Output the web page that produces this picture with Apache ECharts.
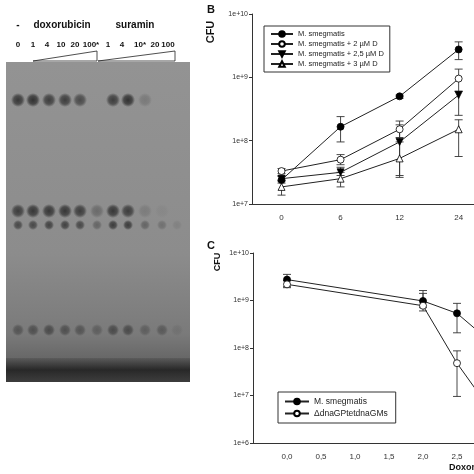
<!DOCTYPE html>
<html><head><meta charset="utf-8">
<script src="https://cdn.jsdelivr.net/npm/echarts@6/dist/echarts.min.js"></script>
<style>html,body{margin:0;padding:0;background:#fff}#c{width:474px;height:474px}</style>
</head><body><div id="c"></div>
<script>
// panel B: CFU over time (hours), log10 values
const timeCats = ['0', '6', '12', '24'];
const bSmeg = [7.38, 8.22, 8.70, 9.44];
const bD2 = [7.52, 7.70, 8.18, 8.98];
const bD25 = [7.40, 7.50, 7.98, 8.72];
const bD3 = [7.27, 7.40, 7.72, 8.18];
// error bars [index, low, high] (log10)
const bErr = [
  [0, 7.33, 7.44], [1, 7.98, 8.38], [2, 8.67, 8.72], [3, 9.28, 9.56],
  [0, 7.48, 7.56], [1, 7.62, 7.78], [2, 8.05, 8.31], [3, 8.78, 9.13],
  [0, 7.36, 7.44], [1, 7.45, 7.58], [2, 7.45, 8.25], [3, 8.40, 8.78],
  [0, 7.14, 7.37], [1, 7.27, 7.50], [2, 7.42, 7.98], [3, 7.75, 8.33]
];
// panel C: CFU vs doxorubicin
const doses = [0, 2.0, 2.5, 3.0];
const cSmeg = [9.44, 8.99, 8.73, 8.12];
const cMut = [9.34, 8.89, 7.68, 6.68];
const cErr = [
  [0, 9.29, 9.55], [2.0, 8.85, 9.21], [2.5, 8.32, 8.94],
  [0, 9.27, 9.42], [2.0, 8.78, 9.15], [2.5, 6.98, 7.94]
];
// gel lanes x positions and band intensities (0..1)
const laneX = [18, 33, 49, 65, 80, 97, 113, 128, 145, 162, 177];
const topBand = [0.75, 0.8, 0.7, 0.7, 0.6, 0, 0.7, 0.8, 0.2, 0, 0];
const midBand1 = [0.7, 0.75, 0.75, 0.75, 0.7, 0.3, 0.75, 0.7, 0.15, 0.05, 0];
const midBand2 = [0.6, 0.6, 0.65, 0.65, 0.6, 0.35, 0.7, 0.7, 0.35, 0.25, 0.1];
const lowBand = [0.4, 0.45, 0.5, 0.45, 0.4, 0.3, 0.5, 0.5, 0.3, 0.35, 0.1];

const chart = echarts.init(document.getElementById('c'));
const f = 'Arial, "Liberation Sans", sans-serif';
const pw = v => Math.pow(10, v);
const line = (name, vals, sym, fill, xi, yi, xs) => ({
  name: name, type: 'line', xAxisIndex: xi, yAxisIndex: yi,
  data: vals.map((v, i) => [xs ? xs[i] : i, pw(v)]),
  symbol: sym, symbolSize: 7,
  itemStyle: { color: fill, borderColor: '#000', borderWidth: 0.8 },
  lineStyle: { color: '#222', width: 1 }, z: 3
});
const errSeries = (data, xi, yi) => ({
  type: 'custom', xAxisIndex: xi, yAxisIndex: yi, silent: true, z: 2,
  data: data.map(d => [d[0], pw(d[1]), pw(d[2])]),
  renderItem: (p, api) => {
    const a = api.coord([api.value(0), api.value(1)]);
    const b = api.coord([api.value(0), api.value(2)]);
    const s = { stroke: '#333', lineWidth: 0.9 };
    return { type: 'group', children: [
      { type: 'line', shape: { x1: a[0], y1: a[1], x2: b[0], y2: b[1] }, style: s },
      { type: 'line', shape: { x1: a[0] - 4, y1: a[1], x2: a[0] + 4, y2: a[1] }, style: s },
      { type: 'line', shape: { x1: b[0] - 4, y1: b[1], x2: b[0] + 4, y2: b[1] }, style: s }
    ] };
  }
});
const yAx = (gi, min, max) => ({
  type: 'log', logBase: 10, gridIndex: gi, min: min, max: max,
  axisLine: { show: true, onZero: false, lineStyle: { color: '#333' } },
  axisTick: { length: 3, lineStyle: { color: '#333' } }, minorTick: { show: false },
  splitLine: { show: false },
  axisLabel: { fontSize: 7, color: '#333', fontFamily: f, margin: 4,
    formatter: v => '1e+' + Math.round(Math.log10(v)) }
});

// gel graphics
const gel = [{ type: 'rect', shape: { x: 6, y: 62, width: 184, height: 320 },
  style: { fill: new echarts.graphic.LinearGradient(0, 0, 0, 1, [
    { offset: 0, color: '#939393' }, { offset: 0.6, color: '#8c8c8c' },
    { offset: 0.85, color: '#7a7a7a' }, { offset: 1, color: '#555' }]) } }];
const blob = (cx, cy, rx, ry, a) => gel.push({ type: 'ellipse', shape: { cx: cx, cy: cy, rx: rx, ry: ry },
  style: { fill: new echarts.graphic.RadialGradient(0.5, 0.5, 0.5, [
    { offset: 0, color: 'rgba(25,25,25,' + a + ')' }, { offset: 0.6, color: 'rgba(25,25,25,' + (a * 0.75) + ')' },
    { offset: 1, color: 'rgba(25,25,25,0)' }]) } });
const band = (arr, y, h, w) => arr.forEach((a, i) => { if (a > 0) blob(laneX[i], y, w, h, a); });
band(topBand, 100, 7, 12);
band(midBand1, 211, 7, 12);
band(midBand2, 225, 5, 12);
band(lowBand, 330, 6, 10);
gel.push({ type: 'rect', shape: { x: 6, y: 358, width: 184, height: 24 },
  style: { fill: new echarts.graphic.LinearGradient(0, 0, 0, 1, [
    { offset: 0, color: 'rgba(40,40,40,0.2)' }, { offset: 0.5, color: 'rgba(30,30,30,0.85)' },
    { offset: 1, color: 'rgba(50,50,50,0.7)' }]) } });
const txt = (x, y, s, size, extra, rot) => gel.push({ type: 'text', x: x, y: y, rotation: rot || 0,
  style: Object.assign({ text: s, fontSize: size, fontWeight: 'bold', fill: '#111', fontFamily: f,
    align: 'center', verticalAlign: 'middle' }, extra || {}) });
txt(18, 25, '-', 10); txt(62, 25, 'doxorubicin', 10); txt(135, 25, 'suramin', 10);
['0', '1', '4', '10', '20', '100*'].forEach((s, i) => txt([18, 33, 47, 61, 75, 91][i], 45, s, 8));
['1', '4', '10*', '20', '100'].forEach((s, i) => txt([108, 122, 140, 155, 168][i], 45, s, 8));
gel.push({ type: 'polygon', shape: { points: [[33, 61], [97, 51], [97, 61]] },
  style: { fill: 'none', stroke: '#222', lineWidth: 0.8 } });
gel.push({ type: 'polygon', shape: { points: [[98, 61], [175, 51], [175, 61]] },
  style: { fill: 'none', stroke: '#222', lineWidth: 0.8 } });
txt(211, 10, 'B', 11); txt(211, 246, 'C', 11);
txt(211, 32, 'CFU', 11, null, Math.PI / 2);
txt(218, 262, 'CFU', 9, null, Math.PI / 2);
txt(449, 468, 'Doxorubicin (\u00b5M)', 9, { align: 'left' });

chart.setOption({
  animation: false,
  graphic: gel,
  grid: [
    { left: 252, top: 14, right: 0, height: 190, outerBoundsMode: 'none' },
    { left: 253, top: 253, right: 0, height: 190, outerBoundsMode: 'none' }
  ],
  xAxis: [
    { type: 'value', gridIndex: 0, min: -0.5, max: 3.26, interval: 0.5,
      axisLine: { onZero: false, lineStyle: { color: '#333' } }, axisTick: { show: false },
      splitLine: { show: false },
      axisLabel: { fontSize: 8, color: '#333', fontFamily: f, margin: 10, showMaxLabel: false,
        formatter: v => Number.isInteger(v) && v >= 0 ? timeCats[v] : '' } },
    { type: 'value', gridIndex: 1, min: -0.5, max: 2.75, interval: 0.5,
      axisLine: { onZero: false, lineStyle: { color: '#333' } }, axisTick: { show: false },
      splitLine: { show: false },
      axisLabel: { fontSize: 8, color: '#333', fontFamily: f, margin: 10, showMaxLabel: false,
        formatter: v => v < 0 ? '' : v.toFixed(1).replace('.', ',') } }
  ],
  yAxis: [yAx(0, 1e7, 1e10), yAx(1, 1e6, 1e10)],
  legend: [
    { data: ['M. smegmatis', 'M. smegmatis + 2 \u00b5M D', 'M. smegmatis + 2,5 \u00b5M D', 'M. smegmatis + 3 \u00b5M D'],
      left: 264, top: 26, orient: 'vertical', itemGap: 2, itemWidth: 22, itemHeight: 7,
      padding: [4, 6, 4, 6], borderColor: '#333', borderWidth: 1,
      textStyle: { fontSize: 7.5, fontFamily: f, color: '#222' } },
    { data: ['M. smegmatis ', '\u0394dnaGPtetdnaGMs'],
      left: 278, top: 392, orient: 'vertical', itemGap: 3, itemWidth: 24, itemHeight: 7,
      padding: [5, 8, 5, 6], borderColor: '#333', borderWidth: 1,
      textStyle: { fontSize: 8.5, fontFamily: f, color: '#222' } }
  ],
  series: [
    line('M. smegmatis', bSmeg, 'circle', '#000', 0, 0),
    line('M. smegmatis + 2 \u00b5M D', bD2, 'circle', '#fff', 0, 0),
    line('M. smegmatis + 2,5 \u00b5M D', bD25, 'path://M0,0L10,0L5,9Z', '#000', 0, 0),
    line('M. smegmatis + 3 \u00b5M D', bD3, 'triangle', '#fff', 0, 0),
    errSeries(bErr, 0, 0),
    line('M. smegmatis ', cSmeg, 'circle', '#000', 1, 1, doses),
    line('\u0394dnaGPtetdnaGMs', cMut, 'circle', '#fff', 1, 1, doses),
    errSeries(cErr, 1, 1)
  ]
});
</script></body></html>
